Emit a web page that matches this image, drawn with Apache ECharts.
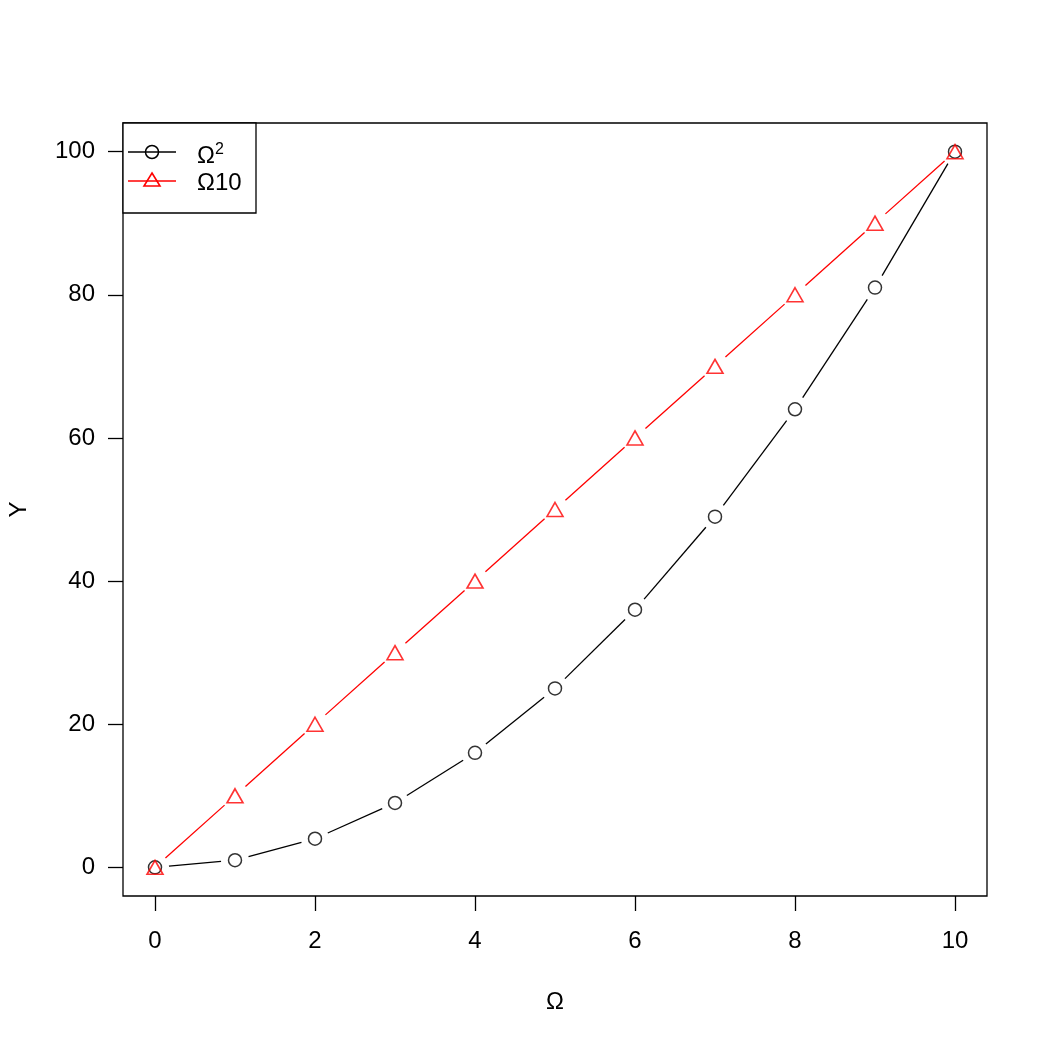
<!DOCTYPE html>
<html>
<head>
<meta charset="utf-8">
<script src="https://cdn.jsdelivr.net/npm/echarts@6/dist/echarts.min.js"></script>
<style>html,body{margin:0;padding:0;background:#fff;}#c{width:1050px;height:1050px;}</style>
</head>
<body>
<div id="c"></div>
<script>
const xValues = [0, 1, 2, 3, 4, 5, 6, 7, 8, 9, 10];
const squareValues = [0, 1, 4, 9, 16, 25, 36, 49, 64, 81, 100];
const tenValues = [0, 10, 20, 30, 40, 50, 60, 70, 80, 90, 100];
const xTicks = [0, 2, 4, 6, 8, 10];
const yTicks = [0, 20, 40, 60, 80, 100];
const FONT = '"Liberation Sans", Arial, Helvetica, sans-serif';
const GAP = 14;

function pts(ys) { return xValues.map((x, i) => [x, ys[i]]); }
function segs(ys) {
  const out = [];
  for (let i = 0; i < xValues.length - 1; i++) out.push([xValues[i], ys[i], xValues[i + 1], ys[i + 1]]);
  return out;
}
function gapSeries(ys, color) {
  return {
    type: 'custom',
    data: segs(ys),
    silent: true,
    z: 2,
    renderItem: function (params, api) {
      const a = api.coord([api.value(0), api.value(1)]);
      const b = api.coord([api.value(2), api.value(3)]);
      const dx = b[0] - a[0], dy = b[1] - a[1];
      const len = Math.sqrt(dx * dx + dy * dy);
      if (len <= 2 * GAP) return null;
      const ux = dx / len, uy = dy / len;
      return {
        type: 'line',
        shape: { x1: a[0] + ux * GAP, y1: a[1] + uy * GAP, x2: b[0] - ux * GAP, y2: b[1] - uy * GAP },
        style: { stroke: color, lineWidth: 1.3 }
      };
    }
  };
}

const chart = echarts.init(document.getElementById('c'), null, { renderer: 'canvas' });
chart.setOption({
  animation: false,
  backgroundColor: '#fff',
  grid: { left: 123, right: 63, top: 123, bottom: 154, show: true, borderColor: '#000', borderWidth: 1.3, backgroundColor: 'transparent', outerBoundsMode: 'none', containLabel: false },
  xAxis: {
    type: 'value', min: -0.4, max: 10.4,
    name: 'Ω', nameLocation: 'middle', nameGap: 94,
    nameTextStyle: { fontFamily: FONT, fontSize: 24, color: '#000' },
    axisLine: { show: false, onZero: false },
    splitLine: { show: false },
    axisTick: { show: true, inside: false, length: 15, customValues: xTicks, lineStyle: { color: '#000', width: 1.3 } },
    axisLabel: { customValues: xTicks, margin: 33, fontFamily: FONT, fontSize: 24, color: '#000' }
  },
  yAxis: {
    type: 'value', min: -4, max: 104,
    name: 'Y', nameLocation: 'middle', nameGap: 92, nameRotate: 90,
    nameTextStyle: { fontFamily: FONT, fontSize: 24, color: '#000' },
    axisLine: { show: false, onZero: false },
    splitLine: { show: false },
    axisTick: { show: true, inside: false, length: 15, customValues: yTicks, lineStyle: { color: '#000', width: 1.3 } },
    axisLabel: { customValues: yTicks, margin: 28, fontFamily: FONT, fontSize: 24, color: '#000' }
  },
  series: [
    gapSeries(squareValues, '#000'),
    gapSeries(tenValues, '#ff0000'),
    {
      type: 'scatter', data: pts(squareValues), symbol: 'circle', symbolSize: 13, z: 3,
      itemStyle: { color: 'rgba(0,0,0,0)', borderColor: '#000', borderWidth: 1.5 }
    },
    {
      type: 'scatter', data: pts(tenValues), symbol: 'triangle', symbolSize: [16, 14], z: 3,
      itemStyle: { color: 'rgba(0,0,0,0)', borderColor: '#ff0000', borderWidth: 1.6 }
    }
  ],
  graphic: [
    { type: 'rect', shape: { x: 123, y: 123, width: 133, height: 90 }, style: { fill: '#fff', stroke: '#000', lineWidth: 1.3 }, z: 10 },
    { type: 'line', shape: { x1: 128, y1: 152, x2: 176, y2: 152 }, style: { stroke: '#000', lineWidth: 1.3 }, z: 11 },
    { type: 'circle', shape: { cx: 152, cy: 152, r: 6.5 }, style: { fill: 'rgba(0,0,0,0)', stroke: '#000', lineWidth: 1.5 }, z: 12 },
    { type: 'line', shape: { x1: 128, y1: 181, x2: 176, y2: 181 }, style: { stroke: '#ff0000', lineWidth: 1.3 }, z: 11 },
    { type: 'polygon', shape: { points: [[152, 173], [160, 186], [144, 186]] }, style: { fill: 'rgba(0,0,0,0)', stroke: '#ff0000', lineWidth: 1.6 }, z: 12 },
    { type: 'text', x: 197, y: 156, z: 12, style: { text: '{a|Ω}{s|2}', verticalAlign: 'middle', fill: '#000', font: '24px ' + FONT,
      rich: { a: { fontSize: 24, fontFamily: FONT, fill: '#000' }, s: { fontSize: 16, fontFamily: FONT, fill: '#000', verticalAlign: 'top', padding: [0, 0, 12, 0] } } } },
    { type: 'text', x: 197, y: 183, z: 12, style: { text: 'Ω10', verticalAlign: 'middle', fill: '#000', font: '24px ' + FONT } }
  ]
});
</script>
</body>
</html>
